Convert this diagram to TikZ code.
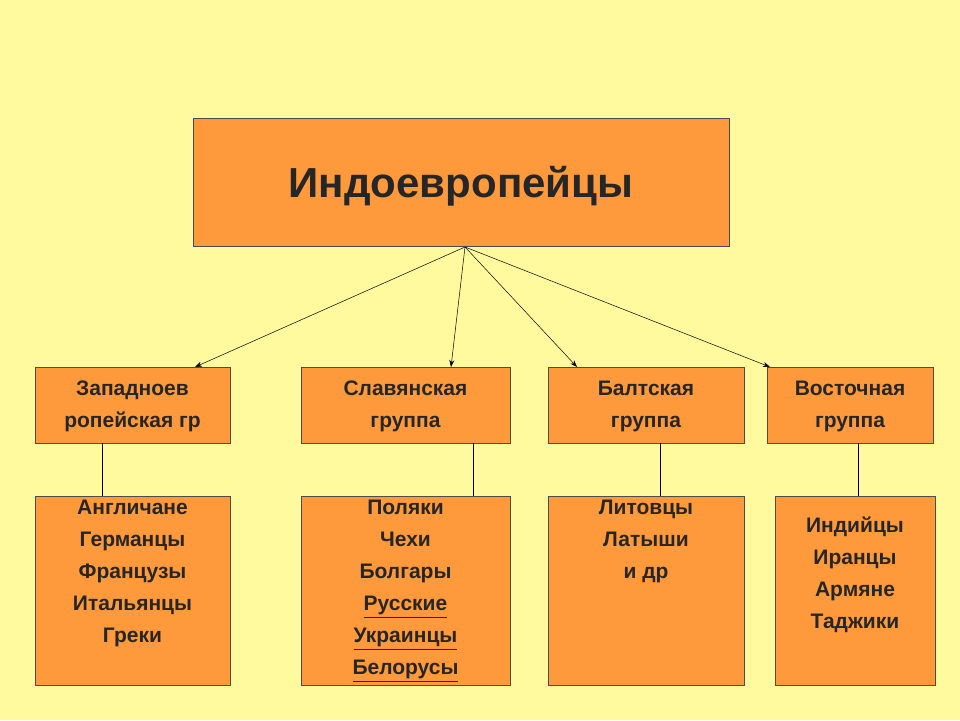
\documentclass[tikz,border=0pt]{standalone}
\usepackage{fontspec}
\setmainfont{Liberation Sans}
\definecolor{bg}{HTML}{FFFA9E}
\definecolor{box}{HTML}{FF9A3C}
\begin{document}
\begin{tikzpicture}[x=1pt,y=-1pt,
 bx/.style={draw=black!70,fill=box,line width=0.6pt},
 tx/.style={font=\bfseries\fontsize{21}{32}\selectfont,align=center,text=black!85},
 ar/.style={-{Stealth[length=7pt,width=5pt]},line width=0.5pt},
 ln/.style={line width=0.5pt}]
\usetikzlibrary{arrows.meta}
\fill[bg] (0,0) rectangle (960,720);
\useasboundingbox (0,0) rectangle (960,720);
\draw[bx] (193,118) rectangle (729,246);
\node[font=\bfseries\fontsize{42}{48}\selectfont,text=black!85] (top) at (461,186) {Индоевропейцы};
\coordinate (s) at (465,247);
% groups
\draw[bx] (35,367) rectangle (230,443);
\draw[bx] (301,367) rectangle (510,443);
\draw[bx] (548,367) rectangle (744,443);
\draw[bx] (767,367) rectangle (933,443);
\node[tx] (g1) at (132.5,406) {Западноев\\ропейская гр};
\node[tx] (g2) at (405.5,406) {Славянская\\группа};
\node[tx] (g3) at (646,406) {Балтская\\группа};
\node[tx] (g4) at (850,406) {Восточная\\группа};
\coordinate (e1) at (195,367);
\coordinate (e2) at (451,367);
\coordinate (e3) at (577,367);
\coordinate (e4) at (770,367);
\draw[ar] (s) -- (e1);
\draw[ar] (s) -- (e2);
\draw[ar] (s) -- (e3);
\draw[ar] (s) -- (e4);
% bottom
\draw[bx] (35,496) rectangle (230,685);
\draw[bx] (301,496) rectangle (510,685);
\draw[bx] (548,496) rectangle (744,685);
\draw[bx] (775,496) rectangle (935,685);
\node[tx,anchor=north] (b1) at (132.5,497) {Англичане\\Германцы\\Французы\\Итальянцы\\Греки};
\node[tx,anchor=north] (b2) at (405.5,497) {Поляки\\Чехи\\Болгары\\\underline{Русские}\\\underline{Украинцы}\\\underline{Белорусы}};
\node[tx,anchor=north] (b3) at (646,497) {Литовцы\\Латыши\\и др};
\node[tx,anchor=north] (b4) at (855,513) {Индийцы\\Иранцы\\Армяне\\Таджики};
\draw[ln] (102,443) -- (102,496);
\draw[ln] (473,443) -- (473,496);
\draw[ln] (660,443) -- (660,496);
\draw[ln] (858,443) -- (858,496);
\end{tikzpicture}
\end{document}
